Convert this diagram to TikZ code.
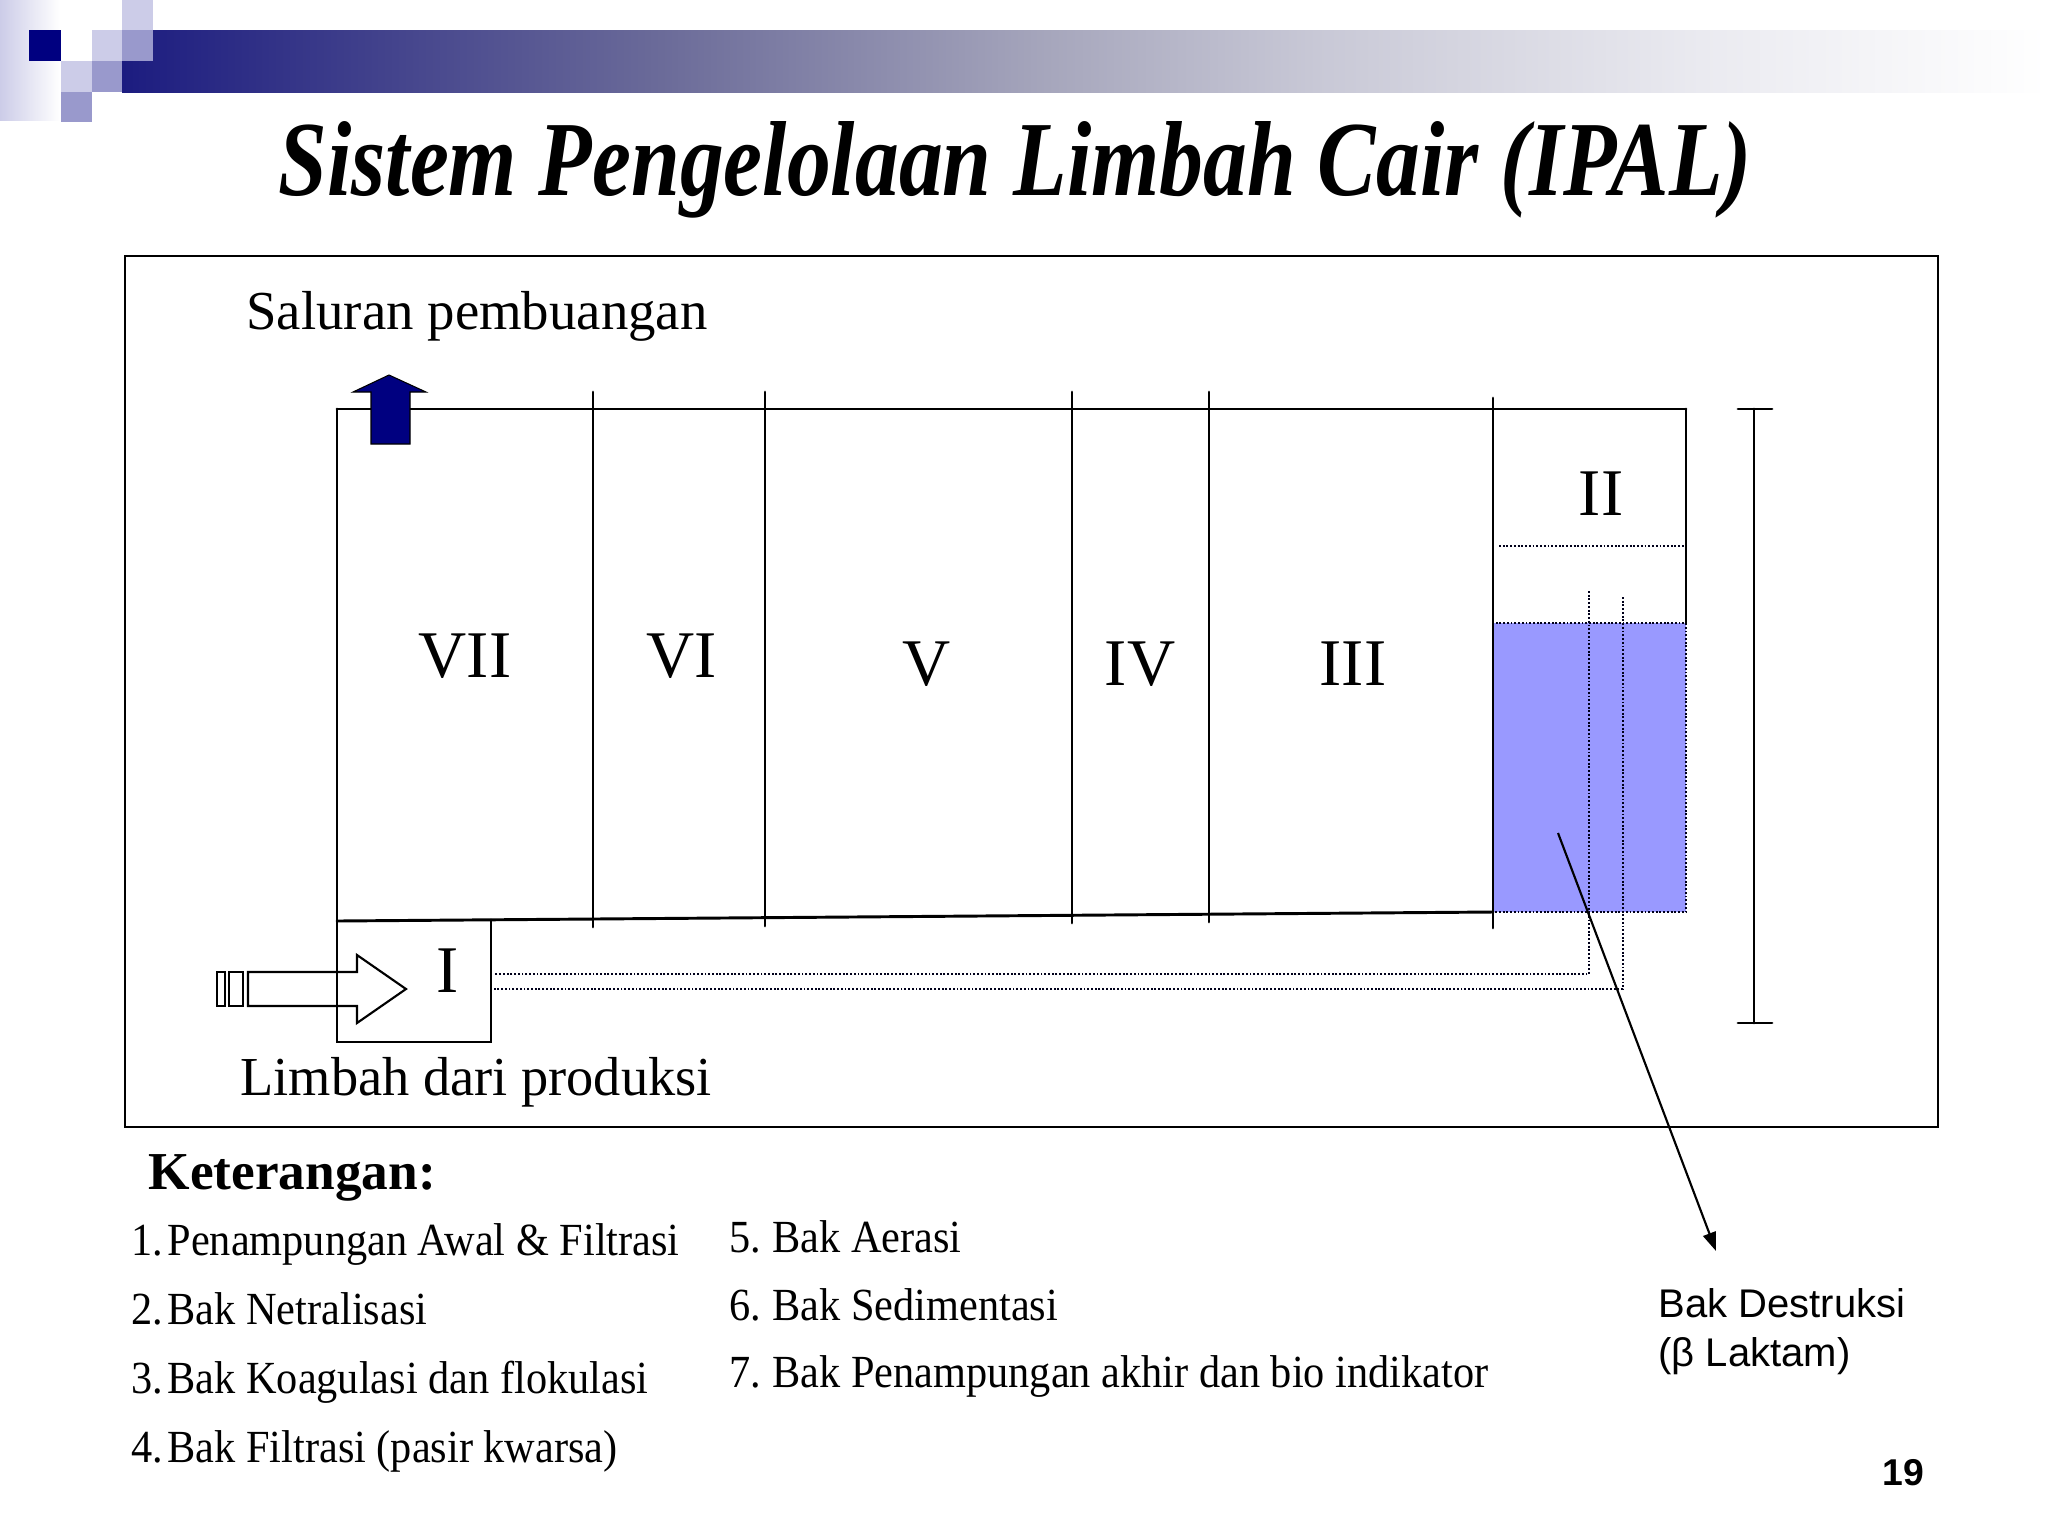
\documentclass[tikz,border=0pt]{standalone}
\usepackage{fontspec}
\setmainfont{Liberation Serif}
\newfontfamily\arialf{Liberation Sans}
\usetikzlibrary{arrows.meta}
\definecolor{navy}{HTML}{000080}
\definecolor{barnavy}{HTML}{1C1C80}
\definecolor{lavl}{HTML}{CCCCE8}
\definecolor{lavm}{HTML}{9999CC}
\definecolor{tankblue}{HTML}{9999FF}
\definecolor{bgA}{HTML}{6B6B99}
\definecolor{bgB}{HTML}{A6A6BC}
\definecolor{bgC}{HTML}{C8C8D6}
\definecolor{bgD}{HTML}{EAEAF0}
\pgfdeclarehorizontalshading{bannershade}{100bp}{color(0bp)=(barnavy); color(25bp)=(barnavy); color(39bp)=(bgA); color(49bp)=(bgB); color(56bp)=(bgC); color(66bp)=(bgD); color(75bp)=(white); color(100bp)=(white)}
\newdimen\myu \myu=0.375pt
\tikzset{
  wall/.style={line width=1.1pt, line cap=round},
  dots/.style={line width=0.6pt, dash pattern=on 0.7pt off 0.7pt, draw=black!80!navy},
  lbl/.style={inner sep=0pt, font=\fontsize{25}{27}\selectfont},
  txt/.style={inner sep=0pt, anchor=base west},
  leg/.style={inner sep=0pt, anchor=base west, font=\fontsize{17.25}{19}\selectfont}
}
\newcommand{\legx}[1]{\scalebox{0.92}[1]{#1}}
\begin{document}
\begin{tikzpicture}[x=0.375pt,y=-0.375pt]
\useasboundingbox (0,0) rectangle (2048,1536);
\fill[white] (0,0) rectangle (2048,1536);
% header decoration
\shade[left color=lavl, right color=white] (0,0) rectangle (60,120);
\shade[shading=bannershade] (122,30) rectangle (2048,92);
\fill[navy] (29,30) rectangle (61,61);
\fill[lavl] (61,61) rectangle (92,92);
\fill[lavl] (92,30) rectangle (122,61);
\fill[lavl] (122,0) rectangle (153,30);
\fill[lavm] (61,92) rectangle (92,122);
\fill[lavm] (92,61) rectangle (122,92);
\fill[lavm] (122,30) rectangle (153,61);
% title
\node[txt] (title) at (278,195) {\resizebox{1473\myu}{\height}{\fontsize{40}{44}\selectfont\bfseries\itshape Sistem Pengelolaan Limbah Cair (IPAL)}};
% outer frame
\draw[line width=0.75pt] (125,256) rectangle (1938,1127);
% tank
\fill[tankblue] (1493,623) rectangle (1686,912);
\draw[dots] (1493,623) rectangle (1686,912);
\draw[dots] (1499,546) -- (1686,546);
\draw[wall] (337,409) -- (1686,409);
\draw[wall] (1686,409) -- (1686,623);
\draw[wall] (337,409) -- (337,1042) -- (491,1042) -- (491,920);
\draw[wall] (337,921) -- (1493,912);
\draw[wall] (593,392) -- (593,927);
\draw[wall] (765,392) -- (765,926);
\draw[wall] (1072,392) -- (1072,923);
\draw[wall] (1209,392) -- (1209,922);
\draw[wall] (1493,398) -- (1493,928);
\draw[dots] (1589,591) -- (1589,974) -- (494,974);
\draw[dots] (1623,597) -- (1623,989) -- (494,989);
% outlet arrow
\draw[fill=navy, line width=0.4pt] (371,444) -- (371,392) -- (353,392) -- (389,375) -- (426,392) -- (410,392) -- (410,444) -- cycle;
% inlet arrow
\draw[line width=0.8pt] (248,972) -- (357,972) -- (357,955) -- (406,989) -- (357,1023) -- (357,1006) -- (248,1006) -- cycle;
\draw[line width=0.8pt] (217,972) rectangle (225,1006);
\draw[line width=0.8pt] (229,972) rectangle (243,1006);
% dimension line
\draw[wall] (1754,409) -- (1754,1023);
\draw[wall] (1738,409) -- (1772,409);
\draw[wall] (1738,1023) -- (1772,1023);
% labels
\node[lbl] (l7) at (465,656) {VII};
\node[lbl] (l6) at (682,656) {VI};
\node[lbl] (l5) at (927,664) {V};
\node[lbl] (l4) at (1140,664) {IV};
\node[lbl] (l3) at (1353,664) {III};
\node[lbl] (l2) at (1601,494) {II};
\node[lbl] (l1) at (448,971) {I};
\node[txt] (sal) at (246,329) {\resizebox{461\myu}{\height}{\fontsize{20.6}{23}\selectfont Saluran pembuangan}};
\node[txt] (lim) at (240,1095) {\resizebox{471\myu}{\height}{\fontsize{20.6}{23}\selectfont Limbah dari produksi}};
% pointer
\coordinate (pa) at (1558,833);
\coordinate (pb) at (1716,1251);
\draw[line width=0.8pt, -{Triangle[length=7pt,width=5pt]}] (pa) -- (pb);
\node[txt, font=\arialf\fontsize{15}{18}\selectfont] (bd1) at (1658,1317) {Bak Destruksi};
\node[txt, font=\arialf\fontsize{15}{18}\selectfont] (bd2) at (1658,1366) {(β Laktam)};
\node[inner sep=0pt, font=\arialf\bfseries\fontsize{14}{16}\selectfont] (pg) at (1903,1473) {19};
% legend
\node[txt, font=\bfseries\fontsize{20}{22}\selectfont] (ket) at (148,1189) {Keterangan:};
\node[leg] (n1) at (131,1255) {\legx{1.}};
\node[leg] (t1) at (167,1255) {\legx{Penampungan Awal \& Filtrasi}};
\node[leg] (n2) at (131,1324) {\legx{2.}};
\node[leg] (t2) at (167,1324) {\legx{Bak Netralisasi}};
\node[leg] (n3) at (131,1393) {\legx{3.}};
\node[leg] (t3) at (167,1393) {\legx{Bak Koagulasi dan flokulasi}};
\node[leg] (n4) at (131,1462) {\legx{4.}};
\node[leg] (t4) at (167,1462) {\legx{Bak Filtrasi (pasir kwarsa)}};
\node[leg] (n5) at (729,1252) {\legx{5.}};
\node[leg] (t5) at (772,1252) {\legx{Bak Aerasi}};
\node[leg] (n6) at (729,1320) {\legx{6.}};
\node[leg] (t6) at (772,1320) {\legx{Bak Sedimentasi}};
\node[leg] (n7) at (729,1387) {\legx{7.}};
\node[leg] (t7) at (772,1387) {\legx{Bak Penampungan akhir dan bio indikator}};
\end{tikzpicture}
\end{document}
